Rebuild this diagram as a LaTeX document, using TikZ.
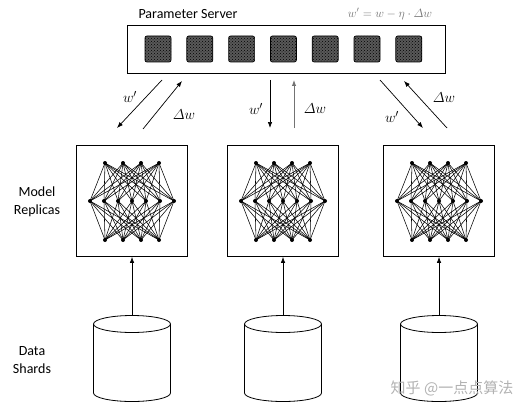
\documentclass[tikz,border=0pt]{standalone}
\usepackage{amsmath}
\usepackage{fontspec}
\setmainfont{Carlito}
\newfontfamily\cjkfont{Noto Sans CJK SC}
\usetikzlibrary{patterns,arrows.meta}

\tikzset{
  box/.style={draw, line width=0.8pt, minimum width=111pt, minimum height=111pt, inner sep=0pt},
  wblock/.style={draw, line width=0.7pt, rounded corners=2pt, minimum size=26pt, inner sep=0pt,
    preaction={fill=black!65}, pattern=crosshatch dots, pattern color=black},
  neuron/.style={circle, fill, inner sep=0pt, minimum size=4pt},
  edge/.style={line width=0.55pt},
  flow/.style={-{Latex[length=6pt,width=4.5pt]}, line width=0.7pt},
  lbl/.style={font=\fontsize{14}{18}\selectfont, align=center},
  mlbl/.style={font=\fontsize{15}{18}\selectfont},
}

\begin{document}
\begin{tikzpicture}[x=1pt,y=-1pt]

        \useasboundingbox (0,0) rectangle (529,409);

        % Parameter server with its blocks
        \node[draw, line width=0.8pt, minimum width=318pt, minimum height=48pt, inner sep=0pt] (ps) at (286,49) {};
        \foreach \k in {1,...,7}
            \node[wblock] (sq\k) at (158+41.8*\k-41.8,49) {};
        \node[lbl] (pslabel) at (188,14) {Parameter Server};
        \node[text=black!55, font=\fontsize{12}{14}\selectfont] (rule) at (390,14) {$w' = w - \eta\cdot\varDelta w$};

        % Model replicas, each with a small network
        \foreach \cx [count=\r] in {132,283,439} {
            \node[box] (rep\r) at (\cx,201) {};
            \foreach \dx [count=\i] in {-27,-9,9,27} {
                \node[neuron] (t\r\i) at (\cx+\dx,163) {};
                \node[neuron] (b\r\i) at (\cx+\dx,240) {};
            }
            \foreach \dx [count=\j] in {-42,-28,-14,0,14,28,42}
                \node[neuron] (m\r\j) at (\cx+\dx,201) {};
            \foreach \i in {1,...,4}
                \foreach \j in {1,...,7}
                    \draw[edge] (t\r\i.center) -- (m\r\j.center) -- (b\r\i.center);
        }

        % Data shards feeding the replicas
        \foreach \cx [count=\r] in {132,283,439} {
            \draw[line width=0.8pt] (\cx,324) ellipse [x radius=38.5, y radius=8.5];
            \draw[line width=0.8pt] (\cx-38.5,324) -- (\cx-38.5,393)
                arc[start angle=180, end angle=0, x radius=38.5, y radius=8.5] -- (\cx+38.5,324);
            \coordinate (ds\r) at (\cx,315.5);
            \draw[flow] (ds\r) -- (rep\r);
        }

        % Ends of the update arrows
        \coordinate (wa1) at (162,80);  \coordinate (wb1) at (117,128);
        \coordinate (da1) at (143,129); \coordinate (db1) at (182,81);
        \coordinate (wa2) at (270,80);  \coordinate (wb2) at (270,128);
        \coordinate (da2) at (294,128); \coordinate (db2) at (294,80);
        \coordinate (wa3) at (380,80);  \coordinate (wb3) at (423,128);
        \coordinate (da3) at (447,128); \coordinate (db3) at (404,81);

        \draw[flow] (wa1) -- (wb1);
        \draw[flow] (da1) -- (db1);
        \draw[flow] (wa2) -- (wb2);
        \draw[flow, line width=0.9pt, black!55] (da2) -- (db2);
        \draw[flow] (wa3) -- (wb3);
        \draw[flow] (da3) -- (db3);

        \node[mlbl] (w1) at (130,97) {$w'$};
        \node[mlbl] (d1) at (184,115) {$\varDelta w$};
        \node[mlbl] (w2) at (256,109) {$w'$};
        \node[mlbl] (d2) at (315,109) {$\varDelta w$};
        \node[mlbl] (w3) at (392,117) {$w'$};
        \node[mlbl] (d3) at (444,98) {$\varDelta w$};

        % Side labels
        \node[lbl] (replabel) at (37,202) {Model\\Replicas};
        \node[lbl] (dslabel) at (32,360) {Data\\Shards};

        \node[text=black!30, font=\cjkfont\fontsize{15}{15}\selectfont] (mark) at (452,388) {知乎 @一点点算法};

\end{tikzpicture}
\end{document}
